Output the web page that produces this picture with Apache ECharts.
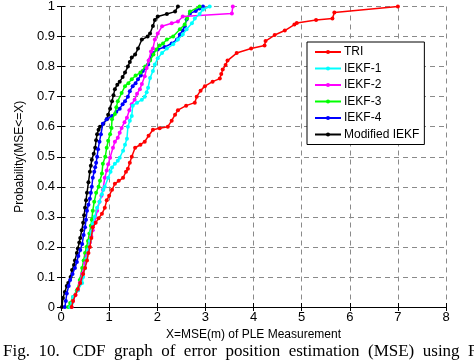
<!DOCTYPE html>
<html>
<head>
<meta charset="utf-8">
<script src="https://cdn.jsdelivr.net/npm/echarts@6/dist/echarts.min.js"></script>
<style>html,body{margin:0;padding:0;background:#fff;}#c{width:474px;height:360px;}</style>
</head>
<body>
<div id="c"></div>
<script>
var seriesNames = ['TRI', 'IEKF-1', 'IEKF-2', 'IEKF-3', 'IEKF-4', 'Modified IEKF'];
var xTicks = [0, 1, 2, 3, 4, 5, 6, 7, 8];
var yTicks = [0, 0.1, 0.2, 0.3, 0.4, 0.5, 0.6, 0.7, 0.8, 0.9, 1];

var triData = [[0.22,0.0],[0.25,0.02],[0.30,0.04],[0.35,0.06],[0.40,0.08],[0.46,0.11],[0.50,0.13],[0.54,0.155],[0.57,0.18],[0.60,0.20],[0.63,0.23],[0.66,0.265],[0.72,0.28],[0.78,0.295],[0.85,0.31],[0.91,0.33],[0.95,0.355],[1.00,0.37],[1.06,0.39],[1.12,0.41],[1.20,0.42],[1.29,0.43],[1.35,0.45],[1.39,0.46],[1.43,0.48],[1.47,0.50],[1.54,0.53],[1.65,0.54],[1.74,0.55],[1.82,0.57],[1.91,0.59],[2.05,0.595],[2.22,0.60],[2.30,0.62],[2.37,0.64],[2.43,0.655],[2.60,0.67],[2.78,0.68],[2.82,0.70],[2.90,0.72],[2.99,0.735],[3.15,0.75],[3.30,0.76],[3.33,0.775],[3.36,0.79],[3.42,0.805],[3.46,0.82],[3.65,0.845],[3.95,0.86],[4.23,0.87],[4.25,0.885],[4.44,0.905],[4.65,0.92],[4.85,0.94],[4.90,0.945],[5.30,0.955],[5.64,0.96],[5.68,0.98],[7.0,1.0]];
var iekf1Data = [[0.19,0.0],[0.23,0.013],[0.25,0.033],[0.35,0.056],[0.44,0.08],[0.46,0.10],[0.50,0.13],[0.53,0.16],[0.56,0.19],[0.60,0.22],[0.63,0.25],[0.66,0.278],[0.70,0.30],[0.75,0.33],[0.80,0.35],[0.85,0.375],[0.88,0.39],[0.91,0.40],[0.98,0.43],[1.03,0.45],[1.06,0.464],[1.12,0.477],[1.18,0.487],[1.22,0.497],[1.29,0.52],[1.33,0.54],[1.37,0.56],[1.39,0.60],[1.43,0.62],[1.47,0.636],[1.49,0.67],[1.58,0.68],[1.68,0.69],[1.74,0.70],[1.78,0.715],[1.81,0.73],[1.85,0.762],[1.91,0.785],[1.95,0.807],[2.01,0.828],[2.10,0.845],[2.20,0.86],[2.33,0.874],[2.43,0.89],[2.53,0.907],[2.61,0.924],[2.72,0.944],[2.78,0.96],[2.88,0.975],[2.95,0.99],[3.09,1.0]];
var iekf2Data = [[0.22,0.0],[0.25,0.02],[0.30,0.04],[0.35,0.056],[0.39,0.08],[0.44,0.11],[0.50,0.146],[0.53,0.17],[0.56,0.19],[0.60,0.215],[0.63,0.235],[0.66,0.255],[0.70,0.28],[0.75,0.32],[0.80,0.35],[0.84,0.37],[0.87,0.39],[0.91,0.43],[0.95,0.454],[0.98,0.475],[1.02,0.497],[1.08,0.53],[1.12,0.55],[1.18,0.563],[1.22,0.58],[1.26,0.596],[1.32,0.615],[1.37,0.63],[1.42,0.655],[1.47,0.675],[1.53,0.69],[1.58,0.71],[1.64,0.725],[1.68,0.742],[1.74,0.768],[1.78,0.795],[1.82,0.82],[1.87,0.85],[1.91,0.86],[1.95,0.89],[2.01,0.91],[2.10,0.934],[2.30,0.944],[2.43,0.95],[2.53,0.967],[3.55,0.977],[3.57,1.0]];
var iekf3Data = [[0.15,0.0],[0.19,0.013],[0.25,0.033],[0.33,0.056],[0.39,0.09],[0.44,0.13],[0.47,0.155],[0.50,0.18],[0.53,0.20],[0.56,0.22],[0.59,0.245],[0.62,0.27],[0.64,0.29],[0.66,0.32],[0.69,0.35],[0.73,0.38],[0.78,0.40],[0.81,0.42],[0.85,0.444],[0.87,0.477],[0.92,0.50],[0.95,0.53],[0.98,0.553],[1.02,0.575],[1.05,0.596],[1.06,0.625],[1.12,0.642],[1.15,0.665],[1.18,0.685],[1.26,0.712],[1.33,0.735],[1.40,0.745],[1.47,0.758],[1.55,0.77],[1.65,0.78],[1.75,0.80],[1.85,0.82],[1.92,0.84],[1.98,0.857],[2.05,0.87],[2.12,0.877],[2.20,0.89],[2.33,0.90],[2.47,0.924],[2.57,0.94],[2.62,0.96],[2.68,0.983],[2.88,1.0]];
var iekf4Data = [[0.08,0.0],[0.10,0.02],[0.12,0.045],[0.16,0.07],[0.19,0.09],[0.24,0.11],[0.29,0.13],[0.33,0.15],[0.36,0.17],[0.40,0.19],[0.44,0.21],[0.47,0.24],[0.50,0.265],[0.52,0.29],[0.54,0.32],[0.57,0.34],[0.60,0.36],[0.62,0.38],[0.64,0.40],[0.66,0.43],[0.69,0.45],[0.71,0.465],[0.73,0.48],[0.75,0.50],[0.77,0.525],[0.80,0.55],[0.83,0.575],[0.87,0.61],[0.95,0.625],[1.06,0.636],[1.15,0.65],[1.22,0.66],[1.28,0.675],[1.33,0.685],[1.39,0.70],[1.43,0.718],[1.49,0.735],[1.55,0.745],[1.60,0.758],[1.66,0.77],[1.70,0.785],[1.76,0.795],[1.81,0.807],[1.85,0.824],[1.89,0.845],[2.01,0.857],[2.15,0.865],[2.30,0.877],[2.41,0.89],[2.47,0.907],[2.53,0.92],[2.57,0.934],[2.61,0.957],[2.68,0.977],[2.80,0.985],[2.88,0.993],[2.95,1.0]];
var modData = [[0.02,0.0],[0.04,0.03],[0.08,0.05],[0.12,0.07],[0.15,0.08],[0.20,0.10],[0.23,0.123],[0.27,0.14],[0.29,0.155],[0.33,0.18],[0.35,0.195],[0.38,0.215],[0.40,0.23],[0.43,0.255],[0.46,0.28],[0.48,0.305],[0.50,0.33],[0.52,0.355],[0.54,0.38],[0.57,0.415],[0.60,0.45],[0.62,0.47],[0.64,0.49],[0.68,0.51],[0.71,0.53],[0.73,0.555],[0.75,0.575],[0.78,0.59],[0.81,0.60],[0.88,0.61],[0.95,0.625],[0.98,0.64],[1.02,0.66],[1.06,0.685],[1.09,0.705],[1.12,0.725],[1.17,0.74],[1.22,0.75],[1.28,0.765],[1.33,0.78],[1.39,0.80],[1.43,0.815],[1.47,0.83],[1.54,0.84],[1.60,0.86],[1.68,0.89],[1.80,0.90],[1.85,0.91],[1.91,0.935],[1.95,0.955],[2.01,0.967],[2.20,0.975],[2.37,0.983],[2.43,1.0]];

var allData = [triData, iekf1Data, iekf2Data, iekf3Data, iekf4Data, modData];
var colors = ['#ff0000', '#00ffff', '#ff00ff', '#00ff00', '#0000ff', '#000000'];
var FONT = 'Liberation Sans, Arial, sans-serif';

var chart = echarts.init(document.getElementById('c'), null, {renderer: 'canvas'});

var gridLine = {show: true, lineStyle: {color: '#8a8a8a', width: 1, type: [5, 4]}};
var axisLine = {show: true, lineStyle: {color: '#000', width: 1}};
var tickIn = {show: true, inside: true, length: 4, lineStyle: {color: '#000'}};

var series = seriesNames.map(function (n, i) {
  return {
    name: n, type: 'line', data: allData[i],
    symbol: 'circle', symbolSize: 4, showSymbol: true,
    lineStyle: {color: colors[i], width: 1.5},
    itemStyle: {color: colors[i]},
    animation: false, z: 10 - i
  };
});

chart.setOption({
  animation: false,
  backgroundColor: '#fff',
  grid: {left: 61, right: 28, top: 5, bottom: 53},
  xAxis: [{
    type: 'value', min: xTicks[0], max: xTicks[xTicks.length - 1], interval: 1,
    name: 'X=MSE(m) of PLE Measurement', nameLocation: 'middle', nameGap: 19,
    nameTextStyle: {fontFamily: FONT, fontSize: 12, color: '#000'},
    axisLine: axisLine, axisTick: tickIn, splitLine: gridLine,
    axisLabel: {fontFamily: FONT, fontSize: 13, color: '#000', margin: 4}
  }, {
    type: 'value', position: 'top', min: 0, max: 8, interval: 1,
    axisLine: axisLine, axisTick: tickIn, splitLine: {show: false}, axisLabel: {show: false}
  }],
  yAxis: [{
    type: 'value', min: yTicks[0], max: yTicks[yTicks.length - 1], interval: 0.1,
    name: 'Probability(MSE<=X)', nameLocation: 'middle', nameGap: 25, nameRotate: 90,
    nameTextStyle: {fontFamily: FONT, fontSize: 12, color: '#000'},
    axisLine: axisLine, axisTick: tickIn, splitLine: gridLine,
    axisLabel: {fontFamily: FONT, fontSize: 13, color: '#000', margin: 6,
      formatter: function (v) { return String(Math.round(v * 10) / 10); }}
  }, {
    type: 'value', position: 'right', min: 0, max: 1, interval: 0.1,
    axisLine: axisLine, axisTick: tickIn, splitLine: {show: false}, axisLabel: {show: false}
  }],
  legend: {
    data: seriesNames, orient: 'vertical', left: 307, top: 42,
    backgroundColor: '#fff', borderColor: '#000', borderWidth: 1,
    padding: [4, 5, 4, 7], itemGap: 4.5, itemWidth: 26, itemHeight: 5,
    textStyle: {fontFamily: FONT, fontSize: 12, lineHeight: 12, color: '#000', padding: [0, 0, 0, -2]}
  },
  graphic: [{
    type: 'text', left: 3, top: 343,
    style: {text: 'Fig.  10.   CDF  graph  of  error  position  estimation  (MSE)  using  R', fontFamily: 'Liberation Serif, Times New Roman, serif', fontSize: 17, fill: '#000'}
  }],
  series: series
});
</script>
</body>
</html>
